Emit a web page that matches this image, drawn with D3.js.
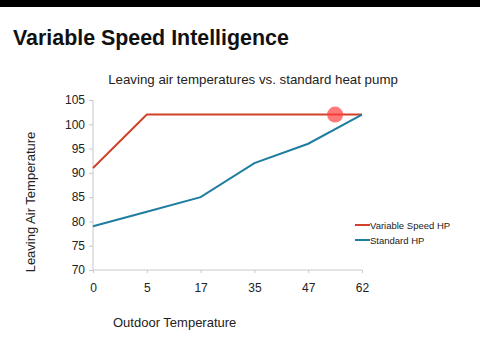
<!DOCTYPE html>
<html>
<head>
<meta charset="utf-8">
<script src="https://cdn.jsdelivr.net/npm/d3@7"></script>
<style>
  body { margin: 0; background: #fff; }
  svg { font-family: Arial, "Liberation Sans", sans-serif; }
</style>
</head>
<body>
<div id="chart"></div>
<script>
'use strict'

// Chart values
const outdoorTemps = ['0', '5', '17', '35', '47', '62']
const variableSpeed = [91, 102, 102, 102, 102, 102]
const standardHP = [79, 82, 85, 92, 96, 102]
const yTicks = [70, 75, 80, 85, 90, 95, 100, 105]
const seriesNames = ['Variable Speed HP', 'Standard HP']

const width = 480,
  height = 360

let svg = d3.select('#chart')
  .append('svg')
  .attr('width', width)
  .attr('height', height)

// top black bar
svg.append('rect')
  .attr('x', 0).attr('y', 0)
  .attr('width', width).attr('height', 7)
  .attr('fill', '#000')

svg.append('text')
  .attr('x', 13).attr('y', 45)
  .attr('font-size', 21.4).attr('font-weight', 'bold')
  .attr('fill', '#111')
  .text('Variable Speed Intelligence')

svg.append('text')
  .attr('x', 253).attr('y', 84)
  .attr('text-anchor', 'middle')
  .attr('font-size', 13.3).attr('fill', '#222')
  .text('Leaving air temperatures vs. standard heat pump')

// scales
const xScale = d3.scalePoint()
  .domain(outdoorTemps)
  .range([93, 362])

const yScale = d3.scaleLinear()
  .domain([70, 105])
  .range([270, 100])

const yAxis = d3.axisLeft(yScale).tickValues(yTicks).tickSize(4).tickPadding(4)
const xAxis = d3.axisBottom(xScale).tickSize(3).tickPadding(10)

let gy = svg.append('g')
  .attr('transform', 'translate(93, 0)')
  .call(yAxis)
let gx = svg.append('g')
  .attr('transform', 'translate(0, 270)')
  .call(xAxis)

;[gx, gy].forEach((g) => {
  g.selectAll('path, line').attr('stroke', '#c8c8c8')
  g.selectAll('text').attr('font-size', 12).attr('fill', '#222')
    .style('font-family', 'Arial, "Liberation Sans", sans-serif')
})
gx.select('.domain').attr('d', 'M93,0H362')
gy.select('.domain').attr('d', 'M0,270V100')

// axis titles
svg.append('text')
  .attr('transform', 'translate(35, 202) rotate(-90)')
  .attr('text-anchor', 'middle')
  .attr('font-size', 13).attr('fill', '#222')
  .text('Leaving Air Temperature')

svg.append('text')
  .attr('x', 113).attr('y', 327)
  .attr('font-size', 13).attr('fill', '#222')
  .text('Outdoor Temperature')

// lines
const colors = ['#d2412b', '#1f7d9f']
const line = d3.line()
  .x((d, i) => xScale(outdoorTemps[i]))
  .y((d) => yScale(d))

;[variableSpeed, standardHP].forEach((s, k) => {
  svg.append('path')
    .datum(s)
    .attr('fill', 'none')
    .attr('stroke', colors[k])
    .attr('stroke-width', 2)
    .attr('d', line)
})

// pointer highlight
const lastTwo = outdoorTemps.slice(-2).map((t) => xScale(t))
svg.append('circle')
  .attr('cx', lastTwo[0] + (lastTwo[1] - lastTwo[0]) * 0.5)
  .attr('cy', yScale(variableSpeed[4]))
  .attr('r', 8)
  .attr('fill', '#ff4040')
  .attr('opacity', 0.7)

// legend
seriesNames.forEach((name, k) => {
  const ly = 225 + k * 15
  svg.append('line')
    .attr('x1', 355).attr('x2', 370)
    .attr('y1', ly).attr('y2', ly)
    .attr('stroke', colors[k]).attr('stroke-width', 2)
  svg.append('text')
    .attr('x', 370).attr('y', ly + 3.5)
    .attr('font-size', 9.5).attr('fill', '#222')
    .text(name)
})
</script>
</body>
</html>
